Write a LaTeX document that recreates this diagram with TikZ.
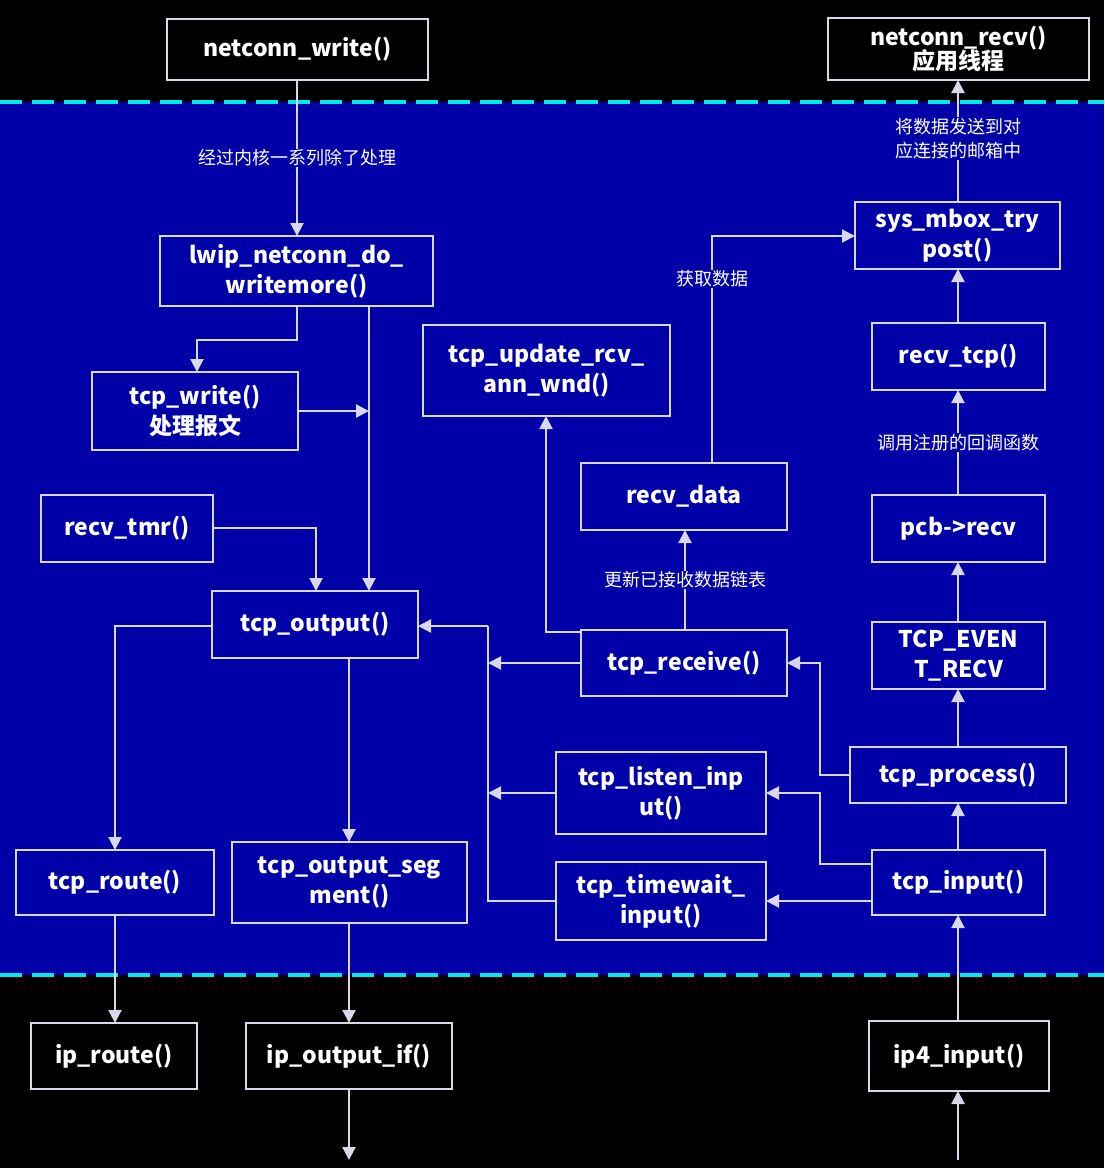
\documentclass[tikz,border=0pt]{standalone}
\usepackage{fontspec}
\setmainfont{Noto Sans CJK SC}
\usetikzlibrary{arrows.meta}
\definecolor{bg}{HTML}{0000A8}
\definecolor{ln}{HTML}{D8D8E8}
\definecolor{cy}{HTML}{00E8F0}
\begin{document}
\begin{tikzpicture}[x=1pt,y=-1pt,
  box/.style={draw=ln,line width=2pt,text=white,font=\fontsize{23}{30}\selectfont\bfseries,align=center,inner sep=0pt},
  ar/.style={draw=ln,line width=2.2pt,-{Triangle[length=13pt,width=13pt]}},
  pl/.style={draw=ln,line width=2.2pt},
  lab/.style={fill=bg,text=white,font=\fontsize{18}{24}\selectfont,align=center,inner sep=1pt}]
\fill[black] (0,0) rectangle (1104,1168);
\useasboundingbox (0,0) rectangle (1104,1168);
\fill[bg] (0,102) rectangle (1104,975);
\draw[cy,line width=4pt,dash pattern=on 22pt off 10pt] (0,102) -- (1104,102) (0,975) -- (1104,975);
\newcommand\bx[6]{\node[box,minimum width=#4-#2,minimum height=#5-#3] (#1) at ({(#2+#4)/2},{(#3+#5)/2}) {#6};}
\bx{nw}{167}{19}{428}{80}{netconn\_write()}
\bx{nr}{828}{18}{1089}{80}{netconn\_recv()\\[-6pt]应用线程}
\bx{lw}{160}{236}{433}{306}{lwip\_netconn\_do\_\\writemore()}
\bx{tw}{92}{372}{298}{450}{tcp\_write()\\处理报文}
\bx{tu}{423}{325}{670}{416}{tcp\_update\_rcv\_\\ann\_wnd()}
\bx{rd}{581}{463}{787}{530}{recv\_data}
\bx{sm}{855}{202}{1060}{269}{sys\_mbox\_try\\post()}
\bx{rt}{872}{323}{1045}{390}{recv\_tcp()}
\bx{pr}{872}{495}{1045}{562}{pcb->recv}
\bx{te}{872}{622}{1045}{689}{TCP\_EVEN\\T\_RECV}
\bx{tp}{850}{747}{1066}{803}{tcp\_process()}
\bx{ti}{872}{850}{1045}{915}{tcp\_input()}
\bx{rm}{41}{495}{213}{562}{recv\_tmr()}
\bx{to}{212}{591}{418}{658}{tcp\_output()}
\bx{tr}{581}{630}{787}{696}{tcp\_receive()}
\bx{tl}{556}{752}{766}{834}{tcp\_listen\_inp\\ut()}
\bx{tt}{556}{862}{766}{940}{tcp\_timewait\_\\input()}
\bx{ro}{16}{850}{214}{915}{tcp\_route()}
\bx{os}{232}{842}{467}{923}{tcp\_output\_seg\\ment()}
\bx{ir}{31}{1023}{197}{1089}{ip\_route()}
\bx{io}{246}{1023}{452}{1089}{ip\_output\_if()}
\bx{ii}{869}{1021}{1049}{1091}{ip4\_input()}
\coordinate (bot1) at (349,1160);
\coordinate (bot2) at (958,1160);
\coordinate (jx) at (369,411);
% left side
\draw[ar] (297,80) -- node[lab]{经过内核一系列除了处理} (297,236);
\draw[ar] (297,306) -- (297,340) -- (197,340) -- (197,372);
\draw[ar] (298,411) -- (jx);
\draw[ar] (369,306) -- (369,591);
\draw[ar] (213,528) -- (316,528) -- (316,591);
\draw[ar] (212,626) -- (115,626) -- (115,850);
\draw[ar] (349,658) -- (349,842);
\draw[ar] (349,923) -- (349,1023);
\draw[ar] (115,915) -- (115,1023);
\draw[ar] (349,1089) -- (bot1);
% right column
\draw[ar] (bot2) -- (958,1091);
\draw[ar] (958,1021) -- (958,915);
\draw[ar] (958,850) -- (958,803);
\draw[ar] (958,747) -- (958,689);
\draw[ar] (958,622) -- (958,562);
\draw[ar] (958,495) -- node[lab]{调用注册的回调函数} (958,390);
\draw[ar] (958,323) -- (958,269);
\draw[ar] (958,202) -- node[lab,pos=0.52]{将数据发送到对\\应连接的邮箱中} (958,80);
% middle
\draw[ar] (712,463) -- node[lab,pos=0.81]{获取数据} (712,236) -- (855,236);
\draw[ar] (685,630) -- node[lab,pos=0.5]{更新已接收数据链表} (685,530);
\draw[ar] (581,632) -- (546,632) -- (546,416);
\draw[ar] (581,663) -- (488,663);
\draw[pl] (488,626) -- (488,901) -- (556,901);
\draw[ar] (488,626) -- (418,626);
\draw[ar] (556,793) -- (488,793);
\draw[ar] (850,775) -- (820,775) -- (820,663) -- (787,663);
\draw[ar] (872,864) -- (820,864) -- (820,793) -- (766,793);
\draw[ar] (872,901) -- (766,901);
\end{tikzpicture}
\end{document}
